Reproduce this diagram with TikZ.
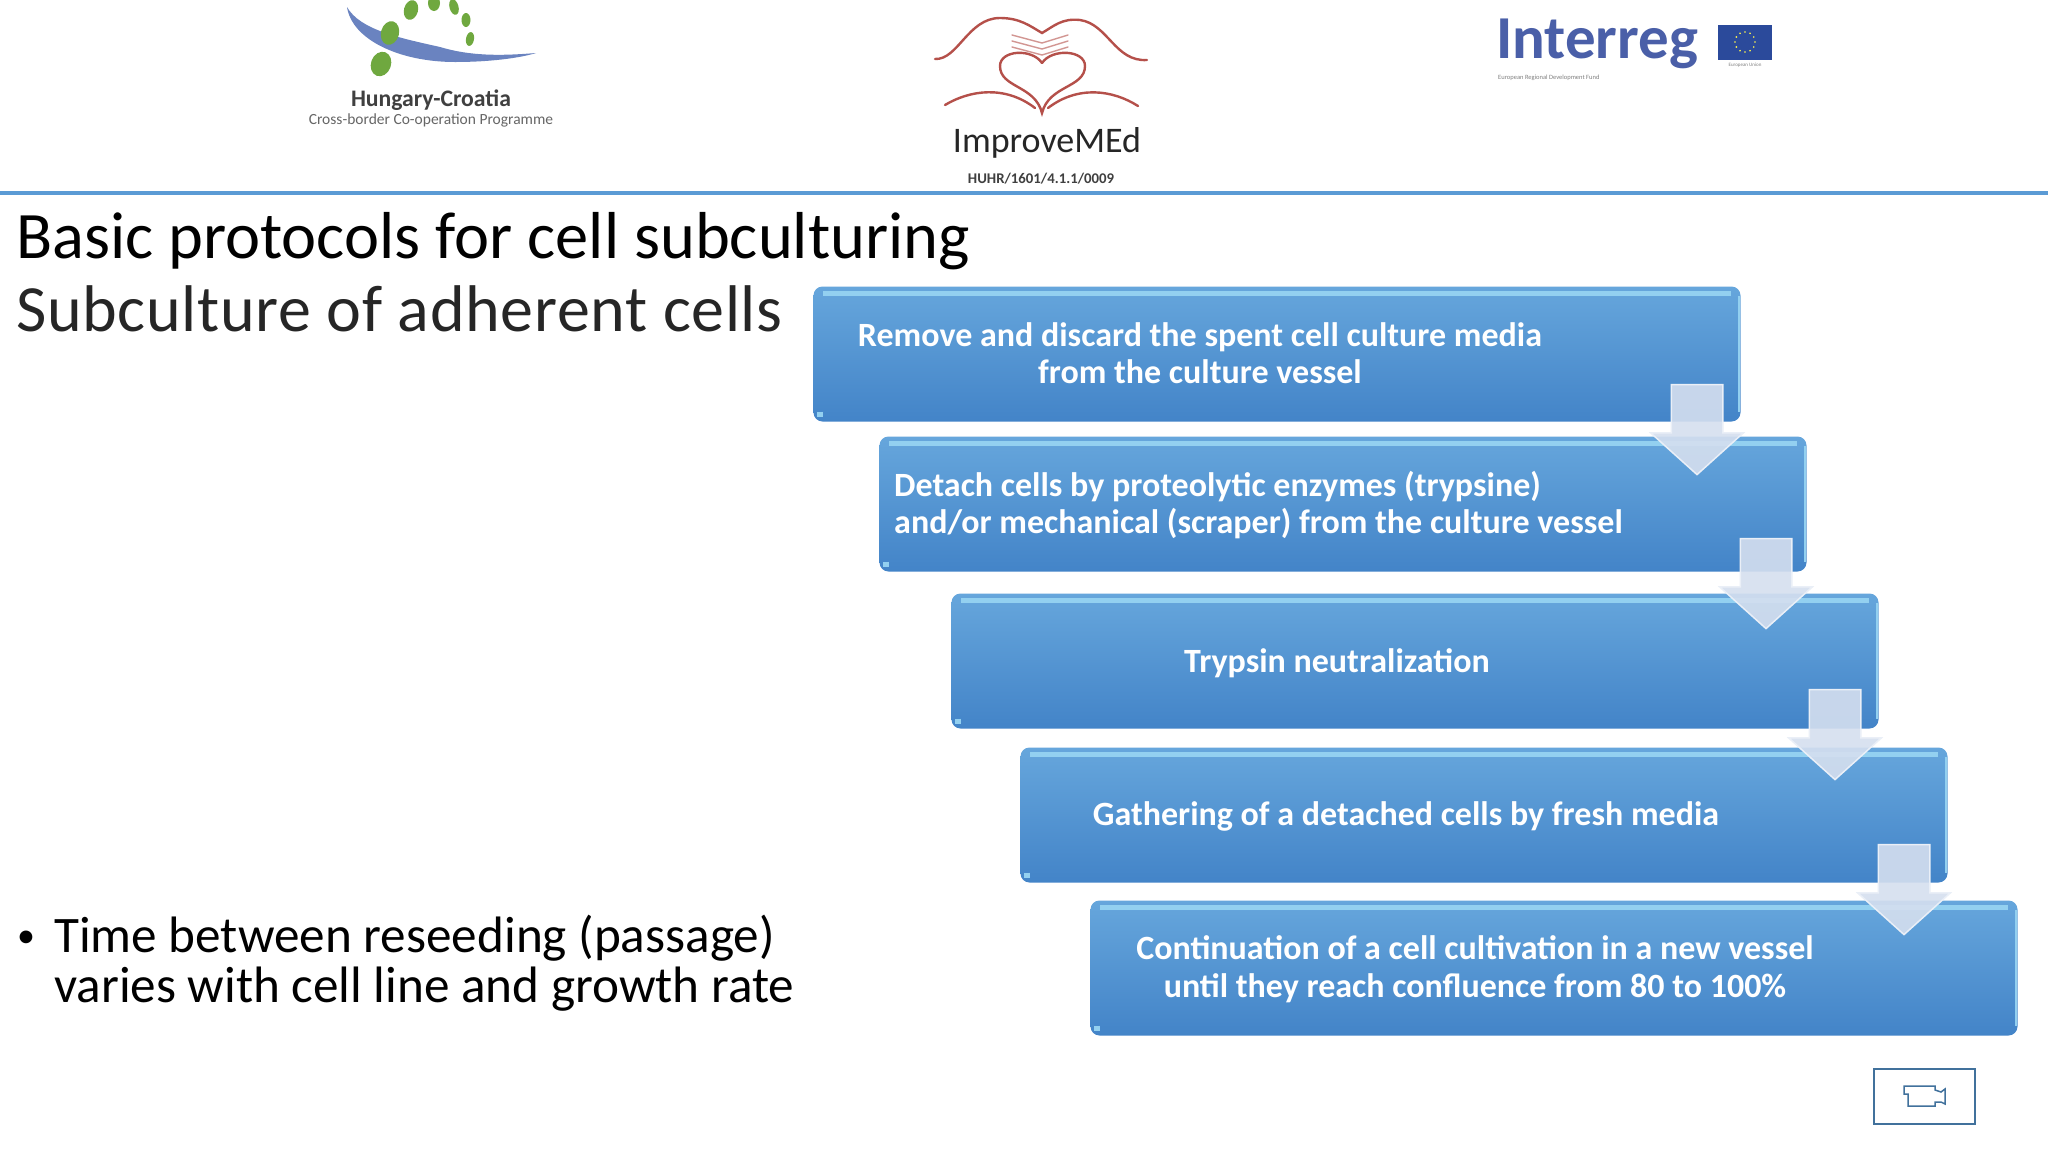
\documentclass[tikz,border=0pt]{standalone}
\usepackage{fontspec}
\setmainfont{Carlito}
\newfontfamily\lightfont[LetterSpace=1]{Carlito}
\usetikzlibrary{shapes.arrows, shapes.geometric}
\definecolor{rulecol}{HTML}{5B9BD5}
\definecolor{boxtop}{HTML}{66A6DC}
\definecolor{boxbot}{HTML}{4384C8}
\definecolor{boxhi}{HTML}{93D0F0}
\definecolor{arrowcol}{HTML}{D5DFEF}
\definecolor{logoblue}{HTML}{6A83C0}
\definecolor{logonavy}{HTML}{4A5FA8}
\definecolor{flagblue}{HTML}{2B4A9B}
\definecolor{logogreen}{HTML}{6FA83F}
\definecolor{logored}{HTML}{B5504A}
\definecolor{framecol}{HTML}{41719C}
\tikzset{
	stepbox/.style={rectangle, rounded corners=9pt, minimum width=927pt, minimum height=135pt, top color=boxtop, bottom color=boxbot, inner sep=0pt},
	steptext/.style={text=white, font=\fontsize{34}{37.5}\selectfont\bfseries, align=center, inner sep=0pt},
	steparrow/.style={single arrow, rotate=-90, minimum height=90pt, minimum width=91pt, single arrow head extend=20.5pt, single arrow tip angle=96, inner xsep=0pt, inner ysep=25pt, fill=arrowcol, fill opacity=0.9, draw=arrowcol!50!white, line width=1.5pt},
	bubble/.style={ellipse, fill=logogreen, inner sep=0pt},
	redline/.style={draw=logored, line width=2.4pt, line cap=round},
}
\begin{document}
\begin{tikzpicture}[x=1pt, y=-1pt]
	\useasboundingbox (0,0) rectangle (2048,1152);
	\fill[white] (0,0) rectangle (2048,1152);

	% left logo
	\fill[logoblue] (347,7) .. controls (352,40) and (400,62) .. (455,62) .. controls (490,62) and (520,58) .. (536,53) .. controls (500,56) and (470,56) .. (440,47) .. controls (400,38) and (360,30) .. (347,7) -- cycle;
	\node (bubblea) [bubble, minimum width=14pt, minimum height=20pt, rotate=-15] at (411,10) {};
	\node (bubbleb) [bubble, minimum width=12pt, minimum height=16pt] at (434,3) {};
	\node (bubblec) [bubble, minimum width=9pt, minimum height=16pt, rotate=15] at (454,7) {};
	\node (bubbled) [bubble, minimum width=9pt, minimum height=14pt] at (466,20) {};
	\node (bubblee) [bubble, minimum width=8pt, minimum height=14pt, rotate=-10] at (470,39) {};
	\node (bubblef) [bubble, minimum width=18pt, minimum height=24pt, rotate=-15] at (390,33) {};
	\node (bubbleg) [bubble, minimum width=20pt, minimum height=25pt, rotate=-20] at (381,64) {};
	\node (hungary) [text=black!75, font=\fontsize{23.7}{24}\selectfont\bfseries, inner sep=0pt] at (431,100) {Hungary-Croatia};
	\node (crossborder) [text=black!60, font=\fontsize{15.5}{16}\selectfont, inner sep=0pt] at (431,120) {Cross-border Co-operation Programme};

	% middle logo
	\draw[redline] (935,59) .. controls (958,60) and (968,18) .. (1000,18) .. controls (1020,18) and (1030,26) .. (1042,33) .. controls (1054,26) and (1062,18) .. (1080,20) .. controls (1108,24) and (1115,62) .. (1147,60);
	\draw[redline] (1042,63) .. controls (1032,48) and (1000,50) .. (1000,66) .. controls (1000,88) and (1035,85) .. (1042,113) .. controls (1049,85) and (1085,88) .. (1085,66) .. controls (1085,50) and (1052,48) .. (1042,63);
	\draw[redline] (945,105) .. controls (970,90) and (1005,85) .. (1035,108);
	\draw[redline] (1048,108) .. controls (1078,85) and (1113,90) .. (1138,106);
	\foreach \dy in {0,6,12}
		\draw[redline, line width=1.4pt, opacity=.6] (1012,35+\dy) -- (1042,43+\dy) -- (1068,35+\dy);
	\node (improvemed) [text=black!85, font=\fontsize{36}{36}\selectfont, inner sep=0pt] at (1047,143) {ImproveMEd};
	\node (projectcode) [text=black!75, font=\fontsize{14.8}{15}\selectfont\bfseries, inner sep=0pt] at (1041,178.5) {HUHR/1601/4.1.1/0009};

	% right logo
	\node (interreg) [text=logonavy, font=\fontsize{61}{61}\selectfont\bfseries, inner sep=0pt, anchor=west] at (1496,44) {Interreg};
	\node (fund) [text=black!50, font=\fontsize{6.5}{7}\selectfont, inner sep=0pt, anchor=west] at (1498,78) {European Regional Development Fund};
	\fill[flagblue] (1718,25) rectangle (1772,60);
	\foreach \ang in {0,30,...,330}
		\fill[yellow!70!white] (1745,42)++(\ang:10pt) circle (0.9pt);
	\node (eunion) [text=black!50, font=\fontsize{5}{5}\selectfont, inner sep=0pt] at (1745,65) {European Union};

	\draw[rulecol, line width=3.5pt] (0,193) -- (2048,193);

	% title
	\node (title) [anchor=base west, inner sep=0pt, font=\fontsize{66.4}{66}\selectfont] at (16,258) {Basic protocols for cell subculturing};
	\node (subtitle) [anchor=base west, inner sep=0pt, text=black!85, font=\fontsize{66}{66}\lightfont] at (16,331) {Subculture of adherent cells};
	\node (bullet) [anchor=base west, inner sep=0pt, font=\fontsize{36}{36}\selectfont] at (17,947) {•};
	\node (passage) [anchor=north west, inner sep=0pt, align=left, font=\fontsize{51.2}{49.5}\selectfont] at (54,915) {Time between reseeding (passage)\\varies with cell line and growth rate};

	% steps
	\node (stepa) [stepbox] at (1277,354) {};
	\node (stepb) [stepbox] at (1343,504) {};
	\node (stepc) [stepbox] at (1415,661) {};
	\node (stepd) [stepbox] at (1484,815) {};
	\node (stepe) [stepbox] at (1554,968) {};
	\foreach \n in {stepa,stepb,stepc,stepd,stepe} {
		\draw[boxhi, line width=4.5pt] ([xshift=10pt,yshift=-7pt]\n.north west) -- ([xshift=-10pt,yshift=-7pt]\n.north east);
		\draw[boxhi, line width=2pt] ([xshift=-2pt,yshift=-10pt]\n.north east) -- ([xshift=-2pt,yshift=10pt]\n.south east);
		\draw[boxhi, line width=6pt] ([xshift=7pt,yshift=10pt]\n.south west) -- ([xshift=7pt,yshift=5pt]\n.south west);
	}

	\node (texta) [steptext] at (1200,353) {Remove and discard the spent cell culture media\\from the culture vessel};
	\node (textb) [steptext, align=left, anchor=west] at (894,505) {Detach cells by proteolytic enzymes (trypsine)\\and/or mechanical (scraper) from the culture vessel};
	\node (textc) [steptext] at (1337,663) {Trypsin neutralization};
	\node (textd) [steptext] at (1406,816) {Gathering of a detached cells by fresh media};
	\node (texte) [steptext] at (1475,969) {Continuation of a cell cultivation in a new vessel\\until they reach confluence from 80 to 100\%};

	% arrows between steps
	\node (arrowa) [steparrow] at (1697,418) {};
	\node (arrowb) [steparrow] at (1766,572) {};
	\node (arrowc) [steparrow] at (1835,723) {};
	\node (arrowd) [steparrow] at (1904,878) {};

	% camera button
	\node (camframe) [draw=framecol, line width=2pt, minimum width=101pt, minimum height=55pt, inner sep=0pt] at (1924.5,1096.5) {};
	\draw[framecol, line width=1.5pt] (1904,1086) -- (1935,1086) -- (1935,1090) -- (1941,1092) -- (1945,1089) -- (1945,1104) -- (1941,1102) -- (1935,1102) -- (1935,1106) -- (1908,1106) -- (1908,1094) -- (1904,1094) -- cycle;
\end{tikzpicture}
\end{document}
